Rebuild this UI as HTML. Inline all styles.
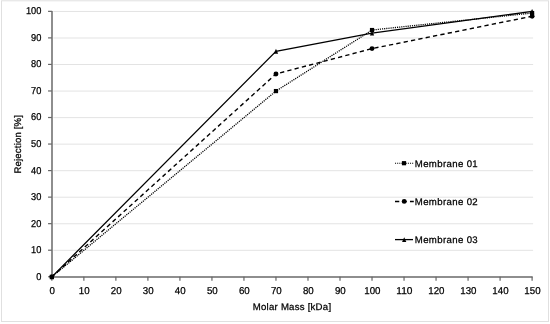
<!DOCTYPE html><html><head><meta charset="utf-8"><title>Rejection chart</title><style>html,body{margin:0;padding:0;background:#fff;width:550px;height:324px;overflow:hidden}svg{display:block}text{font-family:"Liberation Sans", Arial, sans-serif;fill:#000;stroke:#000;stroke-width:0.25px;text-rendering:geometricPrecision}.t{font-size:10.0px}.h{font-size:9.6px}.l{font-size:9.6px}</style></head><body>
<svg width="550" height="324" viewBox="0 0 550 324">
<rect x="0" y="0" width="550" height="324" fill="#fff"/>
<rect x="1.5" y="0.8" width="547" height="320.7" fill="none" stroke="#e0e0e0" stroke-width="1"/>
<line x1="53.35" y1="250.31" x2="533.11" y2="250.31" stroke="#e3e3e3" stroke-width="1"/>
<line x1="53.35" y1="223.77" x2="533.11" y2="223.77" stroke="#e3e3e3" stroke-width="1"/>
<line x1="53.35" y1="197.23" x2="533.11" y2="197.23" stroke="#e3e3e3" stroke-width="1"/>
<line x1="53.35" y1="170.69" x2="533.11" y2="170.69" stroke="#e3e3e3" stroke-width="1"/>
<line x1="53.35" y1="144.15" x2="533.11" y2="144.15" stroke="#e3e3e3" stroke-width="1"/>
<line x1="53.35" y1="117.61" x2="533.11" y2="117.61" stroke="#e3e3e3" stroke-width="1"/>
<line x1="53.35" y1="91.07" x2="533.11" y2="91.07" stroke="#e3e3e3" stroke-width="1"/>
<line x1="53.35" y1="64.53" x2="533.11" y2="64.53" stroke="#e3e3e3" stroke-width="1"/>
<line x1="53.35" y1="37.99" x2="533.11" y2="37.99" stroke="#e3e3e3" stroke-width="1"/>
<line x1="53.35" y1="11.45" x2="533.11" y2="11.45" stroke="#e3e3e3" stroke-width="1"/>
<rect x="51" y="10.95" width="2" height="267.05" fill="#8e8e8e"/>
<rect x="51" y="276" width="481.61" height="2" fill="#8e8e8e"/>
<line x1="48.05" y1="276.75" x2="51.85" y2="276.75" stroke="#666" stroke-width="1.2"/>
<line x1="48.05" y1="250.21" x2="51.85" y2="250.21" stroke="#666" stroke-width="1.2"/>
<line x1="48.05" y1="223.67" x2="51.85" y2="223.67" stroke="#666" stroke-width="1.2"/>
<line x1="48.05" y1="197.13" x2="51.85" y2="197.13" stroke="#666" stroke-width="1.2"/>
<line x1="48.05" y1="170.59" x2="51.85" y2="170.59" stroke="#666" stroke-width="1.2"/>
<line x1="48.05" y1="144.05" x2="51.85" y2="144.05" stroke="#666" stroke-width="1.2"/>
<line x1="48.05" y1="117.51" x2="51.85" y2="117.51" stroke="#666" stroke-width="1.2"/>
<line x1="48.05" y1="90.97" x2="51.85" y2="90.97" stroke="#666" stroke-width="1.2"/>
<line x1="48.05" y1="64.43" x2="51.85" y2="64.43" stroke="#666" stroke-width="1.2"/>
<line x1="48.05" y1="37.89" x2="51.85" y2="37.89" stroke="#666" stroke-width="1.2"/>
<line x1="48.05" y1="11.35" x2="51.85" y2="11.35" stroke="#666" stroke-width="1.2"/>
<line x1="51.85" y1="276.85" x2="51.85" y2="280.65" stroke="#666" stroke-width="1.2"/>
<line x1="83.87" y1="276.85" x2="83.87" y2="280.65" stroke="#666" stroke-width="1.2"/>
<line x1="115.88" y1="276.85" x2="115.88" y2="280.65" stroke="#666" stroke-width="1.2"/>
<line x1="147.90" y1="276.85" x2="147.90" y2="280.65" stroke="#666" stroke-width="1.2"/>
<line x1="179.92" y1="276.85" x2="179.92" y2="280.65" stroke="#666" stroke-width="1.2"/>
<line x1="211.94" y1="276.85" x2="211.94" y2="280.65" stroke="#666" stroke-width="1.2"/>
<line x1="243.95" y1="276.85" x2="243.95" y2="280.65" stroke="#666" stroke-width="1.2"/>
<line x1="275.97" y1="276.85" x2="275.97" y2="280.65" stroke="#666" stroke-width="1.2"/>
<line x1="307.99" y1="276.85" x2="307.99" y2="280.65" stroke="#666" stroke-width="1.2"/>
<line x1="340.00" y1="276.85" x2="340.00" y2="280.65" stroke="#666" stroke-width="1.2"/>
<line x1="372.02" y1="276.85" x2="372.02" y2="280.65" stroke="#666" stroke-width="1.2"/>
<line x1="404.04" y1="276.85" x2="404.04" y2="280.65" stroke="#666" stroke-width="1.2"/>
<line x1="436.05" y1="276.85" x2="436.05" y2="280.65" stroke="#666" stroke-width="1.2"/>
<line x1="468.07" y1="276.85" x2="468.07" y2="280.65" stroke="#666" stroke-width="1.2"/>
<line x1="500.09" y1="276.85" x2="500.09" y2="280.65" stroke="#666" stroke-width="1.2"/>
<line x1="532.11" y1="276.85" x2="532.11" y2="280.65" stroke="#666" stroke-width="1.2"/>
<text class="t" x="41.40" y="279.70" text-anchor="end" textLength="5.15" lengthAdjust="spacingAndGlyphs">0</text>
<text class="t" x="41.40" y="253.16" text-anchor="end" textLength="10.30" lengthAdjust="spacingAndGlyphs">10</text>
<text class="t" x="41.40" y="226.62" text-anchor="end" textLength="10.30" lengthAdjust="spacingAndGlyphs">20</text>
<text class="t" x="41.40" y="200.08" text-anchor="end" textLength="10.30" lengthAdjust="spacingAndGlyphs">30</text>
<text class="t" x="41.40" y="173.54" text-anchor="end" textLength="10.30" lengthAdjust="spacingAndGlyphs">40</text>
<text class="t" x="41.40" y="147.00" text-anchor="end" textLength="10.30" lengthAdjust="spacingAndGlyphs">50</text>
<text class="t" x="41.40" y="120.46" text-anchor="end" textLength="10.30" lengthAdjust="spacingAndGlyphs">60</text>
<text class="t" x="41.40" y="93.92" text-anchor="end" textLength="10.30" lengthAdjust="spacingAndGlyphs">70</text>
<text class="t" x="41.40" y="67.38" text-anchor="end" textLength="10.30" lengthAdjust="spacingAndGlyphs">80</text>
<text class="t" x="41.40" y="40.84" text-anchor="end" textLength="10.30" lengthAdjust="spacingAndGlyphs">90</text>
<text class="t" x="41.40" y="14.30" text-anchor="end" textLength="15.45" lengthAdjust="spacingAndGlyphs">100</text>
<text class="t" x="52.20" y="294.40" text-anchor="middle" textLength="5.40" lengthAdjust="spacingAndGlyphs">0</text>
<text class="t" x="84.22" y="294.40" text-anchor="middle" textLength="10.80" lengthAdjust="spacingAndGlyphs">10</text>
<text class="t" x="116.23" y="294.40" text-anchor="middle" textLength="10.80" lengthAdjust="spacingAndGlyphs">20</text>
<text class="t" x="148.25" y="294.40" text-anchor="middle" textLength="10.80" lengthAdjust="spacingAndGlyphs">30</text>
<text class="t" x="180.27" y="294.40" text-anchor="middle" textLength="10.80" lengthAdjust="spacingAndGlyphs">40</text>
<text class="t" x="212.28" y="294.40" text-anchor="middle" textLength="10.80" lengthAdjust="spacingAndGlyphs">50</text>
<text class="t" x="244.30" y="294.40" text-anchor="middle" textLength="10.80" lengthAdjust="spacingAndGlyphs">60</text>
<text class="t" x="276.32" y="294.40" text-anchor="middle" textLength="10.80" lengthAdjust="spacingAndGlyphs">70</text>
<text class="t" x="308.34" y="294.40" text-anchor="middle" textLength="10.80" lengthAdjust="spacingAndGlyphs">80</text>
<text class="t" x="340.35" y="294.40" text-anchor="middle" textLength="10.80" lengthAdjust="spacingAndGlyphs">90</text>
<text class="t" x="372.37" y="294.40" text-anchor="middle" textLength="16.20" lengthAdjust="spacingAndGlyphs">100</text>
<text class="t" x="404.39" y="294.40" text-anchor="middle" textLength="16.20" lengthAdjust="spacingAndGlyphs">110</text>
<text class="t" x="436.40" y="294.40" text-anchor="middle" textLength="16.20" lengthAdjust="spacingAndGlyphs">120</text>
<text class="t" x="468.42" y="294.40" text-anchor="middle" textLength="16.20" lengthAdjust="spacingAndGlyphs">130</text>
<text class="t" x="500.44" y="294.40" text-anchor="middle" textLength="16.20" lengthAdjust="spacingAndGlyphs">140</text>
<text class="t" x="532.46" y="294.40" text-anchor="middle" textLength="16.20" lengthAdjust="spacingAndGlyphs">150</text>
<text class="h" x="291.9" y="310" text-anchor="middle" textLength="78.3" lengthAdjust="spacing">Molar Mass [kDa]</text>
<text class="h" transform="translate(20.6,144.3) rotate(-90)" text-anchor="middle" textLength="58.5" lengthAdjust="spacing">Rejection [%]</text>
<polyline points="51.85,276.85 275.97,91.07 372.02,30.03 532.11,13.04" fill="none" stroke="#000" stroke-width="1.3" stroke-dasharray="1.15 1.0" />
<polyline points="51.85,276.85 275.97,73.95 372.02,48.61 532.11,16.23" fill="none" stroke="#000" stroke-width="1.4" stroke-dasharray="4.28 3.21" stroke-dashoffset="0.49" />
<polyline points="51.85,276.85 275.97,51.26 372.02,33.21 532.11,11.45" fill="none" stroke="#000" stroke-width="1.3" />
<rect x="49.75" y="274.75" width="4.20" height="4.20" fill="#000"/>
<rect x="273.87" y="88.97" width="4.20" height="4.20" fill="#000"/>
<rect x="369.92" y="27.93" width="4.20" height="4.20" fill="#000"/>
<rect x="530.00" y="10.94" width="4.20" height="4.20" fill="#000"/>
<circle cx="51.85" cy="276.85" r="2.45" fill="#000"/>
<circle cx="275.97" cy="73.95" r="2.45" fill="#000"/>
<circle cx="372.02" cy="48.61" r="2.45" fill="#000"/>
<circle cx="532.11" cy="16.23" r="2.45" fill="#000"/>
<polygon points="51.85,274.45 54.00,279.25 49.70,279.25" fill="#000"/>
<polygon points="275.97,48.86 278.12,53.66 273.82,53.66" fill="#000"/>
<polygon points="372.02,30.81 374.17,35.61 369.87,35.61" fill="#000"/>
<polygon points="532.11,9.05 534.25,13.85 529.96,13.85" fill="#000"/>
<line x1="395" y1="163.20" x2="413.5" y2="163.20" stroke="#000" stroke-width="1.1" stroke-dasharray="1.07 1.07"/>
<rect x="401.90" y="161.10" width="4.20" height="4.20" fill="#000"/>
<line x1="395" y1="201.40" x2="413.8" y2="201.40" stroke="#000" stroke-width="1.5" stroke-dasharray="4.28 3.21"/>
<circle cx="404.20" cy="201.40" r="2.45" fill="#000"/>
<line x1="395" y1="239.60" x2="413" y2="239.60" stroke="#000" stroke-width="1.3"/>
<polygon points="404.20,237.20 406.35,242.00 402.05,242.00" fill="#000"/>
<text class="l" x="414.8" y="166.60" textLength="62.9" lengthAdjust="spacing">Membrane 01</text>
<text class="l" x="414.8" y="204.80" textLength="62.9" lengthAdjust="spacing">Membrane 02</text>
<text class="l" x="414.8" y="243.00" textLength="62.9" lengthAdjust="spacing">Membrane 03</text>
</svg></body></html>
